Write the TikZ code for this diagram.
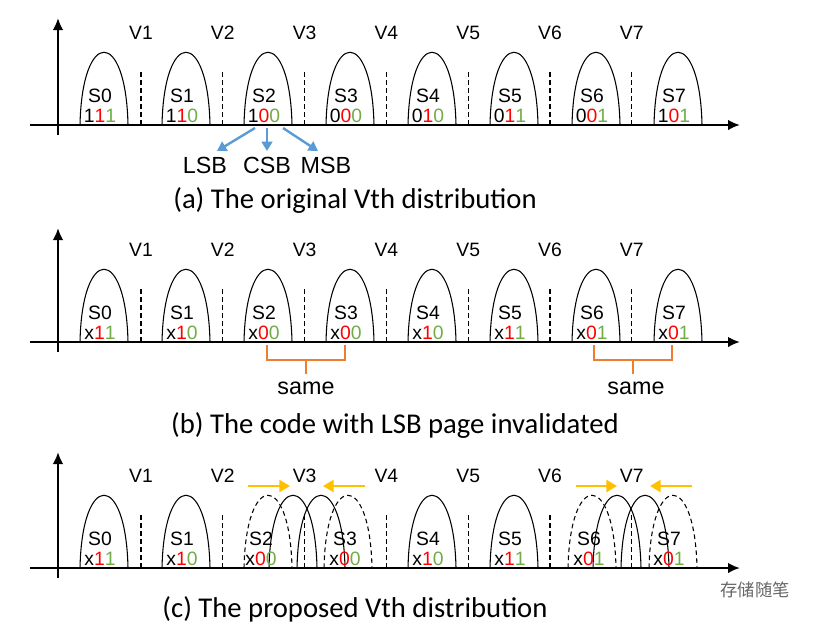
\documentclass[tikz,border=0pt]{standalone}
\usepackage{fontspec}
\setmainfont{Liberation Sans}
\newfontfamily\capf{Carlito}
\newfontfamily\cjk{Noto Sans CJK SC}
\usetikzlibrary{arrows.meta}
\definecolor{bR}{HTML}{FF0000}
\definecolor{bG}{HTML}{70AD47}
\definecolor{blu}{HTML}{5B9BD5}
\definecolor{org}{HTML}{ED7D31}
\definecolor{yel}{HTML}{FFC000}
\tikzset{
 axis/.style={line width=1.8pt,-{Latex[length=9pt,width=8pt]}},
 vl/.style={line width=0.9pt,dash pattern=on 3.5pt off 2.5pt},
 hump/.style={line width=0.8pt},
 dhump/.style={line width=0.8pt,dash pattern=on 3.5pt off 2.5pt},
 lab/.style={font=\fontsize{14.5}{14.5}\selectfont,inner sep=0pt},
 big/.style={font=\fontsize{17.5}{17.5}\selectfont,inner sep=0pt},
 captxt/.style={font=\capf\fontsize{21.5}{21.5}\selectfont,inner sep=0pt},
 barr/.style={blu,line width=1.8pt,-{Triangle[length=7pt,width=8pt]}},
 yarr/.style={yel,line width=1.8pt,-{Triangle[length=8pt,width=9pt]}},
 brk/.style={org,line width=1.6pt},
}
\newcommand{\hmp}[3]{\draw[#3] (#1-24,#2) .. controls (#1-22,#2-97) and (#1+22,#2-97) .. (#1+24,#2);}
\newcommand{\panel}[2]{%
 \draw[axis] (30,#1) -- (740,#1);
 \draw[axis] (58,#1+10) -- (58,#2);
 \foreach \i in {1,...,7}{
  \pgfmathsetmacro{\vx}{141+81.8*(\i-1)}
  \draw[vl] (\vx,#1) -- (\vx,#1-53);
  \node[lab] (v\i-#1) at (\vx,#1-92) {V\i};}
}
\newcommand{\stlab}[4]{%
 \node[lab] (s#3-#2) at (#1-4,#2-29) {S#3};
 \node[lab] (b#3-#2) at (#1-4,#2-9) {#4};}
\newcommand{\bits}[3]{#1\textcolor{bR}{#2}\textcolor{bG}{#3}}
\begin{document}
\begin{tikzpicture}[x=0.75pt,y=-0.75pt]
\useasboundingbox (0,0) rectangle (816,626);
% ---- (a)
\panel{125}{18}
\foreach \c in {104,186,268,350,432,514,596,678}{\hmp{\c}{125}{hump}}
\stlab{104}{125}{0}{\bits111}
\stlab{186}{125}{1}{\bits110}
\stlab{268}{125}{2}{\bits100}
\stlab{350}{125}{3}{\bits000}
\stlab{432}{125}{4}{\bits010}
\stlab{514}{125}{5}{\bits011}
\stlab{596}{125}{6}{\bits001}
\stlab{678}{125}{7}{\bits101}
\node[big] (lsb) at (205,165) {LSB};
\node[big] (csb) at (267,165) {CSB};
\node[big] (msb) at (326,165) {MSB};
\coordinate (o1) at (255,128); \coordinate (o2) at (267,128); \coordinate (o3) at (283,128);
\draw[barr] (o1) -- (217,151);
\draw[barr] (o2) -- (267,151);
\draw[barr] (o3) -- (318,151);
\node[captxt] (ca) at (355,200) {(a) The original Vth distribution};
% ---- (b)
\panel{342}{228}
\foreach \c in {104,186,268,350,432,514,596,678}{\hmp{\c}{342}{hump}}
\stlab{104}{342}{0}{\bits x11}
\stlab{186}{342}{1}{\bits x10}
\stlab{268}{342}{2}{\bits x00}
\stlab{350}{342}{3}{\bits x00}
\stlab{432}{342}{4}{\bits x10}
\stlab{514}{342}{5}{\bits x11}
\stlab{596}{342}{6}{\bits x01}
\stlab{678}{342}{7}{\bits x01}
\draw[brk] (267,345) -- (267,360) -- (345,360) -- (345,345);
\draw[brk] (306,360) -- (306,374);
\draw[brk] (594,345) -- (594,360) -- (672,360) -- (672,345);
\draw[brk] (633,360) -- (633,374);
\node[big] (same1) at (306,388) {same};
\node[big] (same2) at (636,388) {same};
\node[captxt] (cb) at (395,425) {(b) The code with LSB page invalidated};
% ---- (c)
\panel{568}{452}
\foreach \c in {104,186,432,514}{\hmp{\c}{568}{hump}}
\foreach \c in {268,348,592,673}{\hmp{\c}{568}{dhump}}
\foreach \c in {293,321,617,645}{\hmp{\c}{568}{hump}}
\stlab{104}{568}{0}{\bits x11}
\stlab{186}{568}{1}{\bits x10}
\stlab{265}{568}{2}{\bits x00}
\stlab{349}{568}{3}{\bits x00}
\stlab{432}{568}{4}{\bits x10}
\stlab{514}{568}{5}{\bits x11}
\stlab{593}{568}{6}{\bits x01}
\stlab{673}{568}{7}{\bits x01}
\draw[yarr] (248,486) -- (290,486);
\draw[yarr] (365,486) -- (323,486);
\draw[yarr] (576,486) -- (617,486);
\draw[yarr] (692,486) -- (650,486);
\node[captxt] (cc) at (355,609) {(c) The proposed Vth distribution};
\node[font=\cjk\fontsize{13}{13}\selectfont,text=black!60,inner sep=0pt] (wm) at (755,590) {存储随笔};
\end{tikzpicture}
\end{document}
